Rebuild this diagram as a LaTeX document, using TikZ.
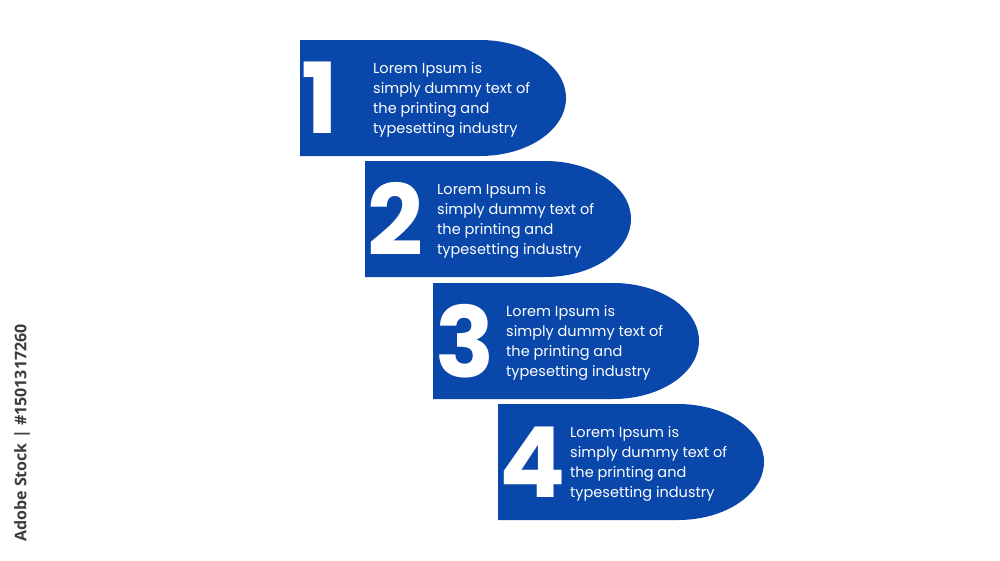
\documentclass[tikz,border=0pt]{standalone}
\usepackage{fontspec}
\setmainfont{Poppins}
\newfontfamily\markfont{Open Sans}
\definecolor{stepblue}{HTML}{0A47AB}
\definecolor{markgray}{HTML}{3C3C3C}

\tikzset{
  stepshape/.style={fill=stepblue,draw=none},
  stepnum/.style={anchor=west,inner sep=0pt,text=white,font=\fontsize{98}{98}\selectfont\bfseries},
  steptext/.style={anchor=west,inner sep=0pt,align=left,text=white,font=\fontsize{14.5}{20}\selectfont},
}

\begin{document}
\begin{tikzpicture}[x=1pt,y=-1pt]
    \useasboundingbox[fill=white] (0,0) rectangle (1000,560) ;

    % watermark
    \node[rotate=90,text=markgray,font=\markfont\bfseries\fontsize{16}{16}\selectfont] (mark) at (22,433) {Adobe Stock | \#1501317260} ;

    \begin{scope}[shift={(300,40)}]
      \fill[stepshape] (0,0) -- (180,0) arc[start angle=-90,end angle=90,x radius=86,y radius=58] -- (0,116) -- cycle ;
      \node[stepnum] (num1) at (1,58) {1} ;
      \node[steptext] (text1) at (73,60) {Lorem Ipsum is\\simply dummy text of\\the printing and\\typesetting industry} ;
    \end{scope}

    \begin{scope}[shift={(365,161)}]
      \fill[stepshape] (0,0) -- (180,0) arc[start angle=-90,end angle=90,x radius=86,y radius=58] -- (0,116) -- cycle ;
      \node[stepnum] (num2) at (2,58) {2} ;
      \node[steptext] (text2) at (72,60) {Lorem Ipsum is\\simply dummy text of\\the printing and\\typesetting industry} ;
    \end{scope}

    \begin{scope}[shift={(433,283)}]
      \fill[stepshape] (0,0) -- (180,0) arc[start angle=-90,end angle=90,x radius=86,y radius=58] -- (0,116) -- cycle ;
      \node[stepnum] (num3) at (2,58) {3} ;
      \node[steptext] (text3) at (73,60) {Lorem Ipsum is\\simply dummy text of\\the printing and\\typesetting industry} ;
    \end{scope}

    \begin{scope}[shift={(498,404)}]
      \fill[stepshape] (0,0) -- (180,0) arc[start angle=-90,end angle=90,x radius=86,y radius=58] -- (0,116) -- cycle ;
      \node[stepnum] (num4) at (1,58) {4} ;
      \node[steptext] (text4) at (72,60) {Lorem Ipsum is\\simply dummy text of\\the printing and\\typesetting industry} ;
    \end{scope}

  \end{tikzpicture}
\end{document}
